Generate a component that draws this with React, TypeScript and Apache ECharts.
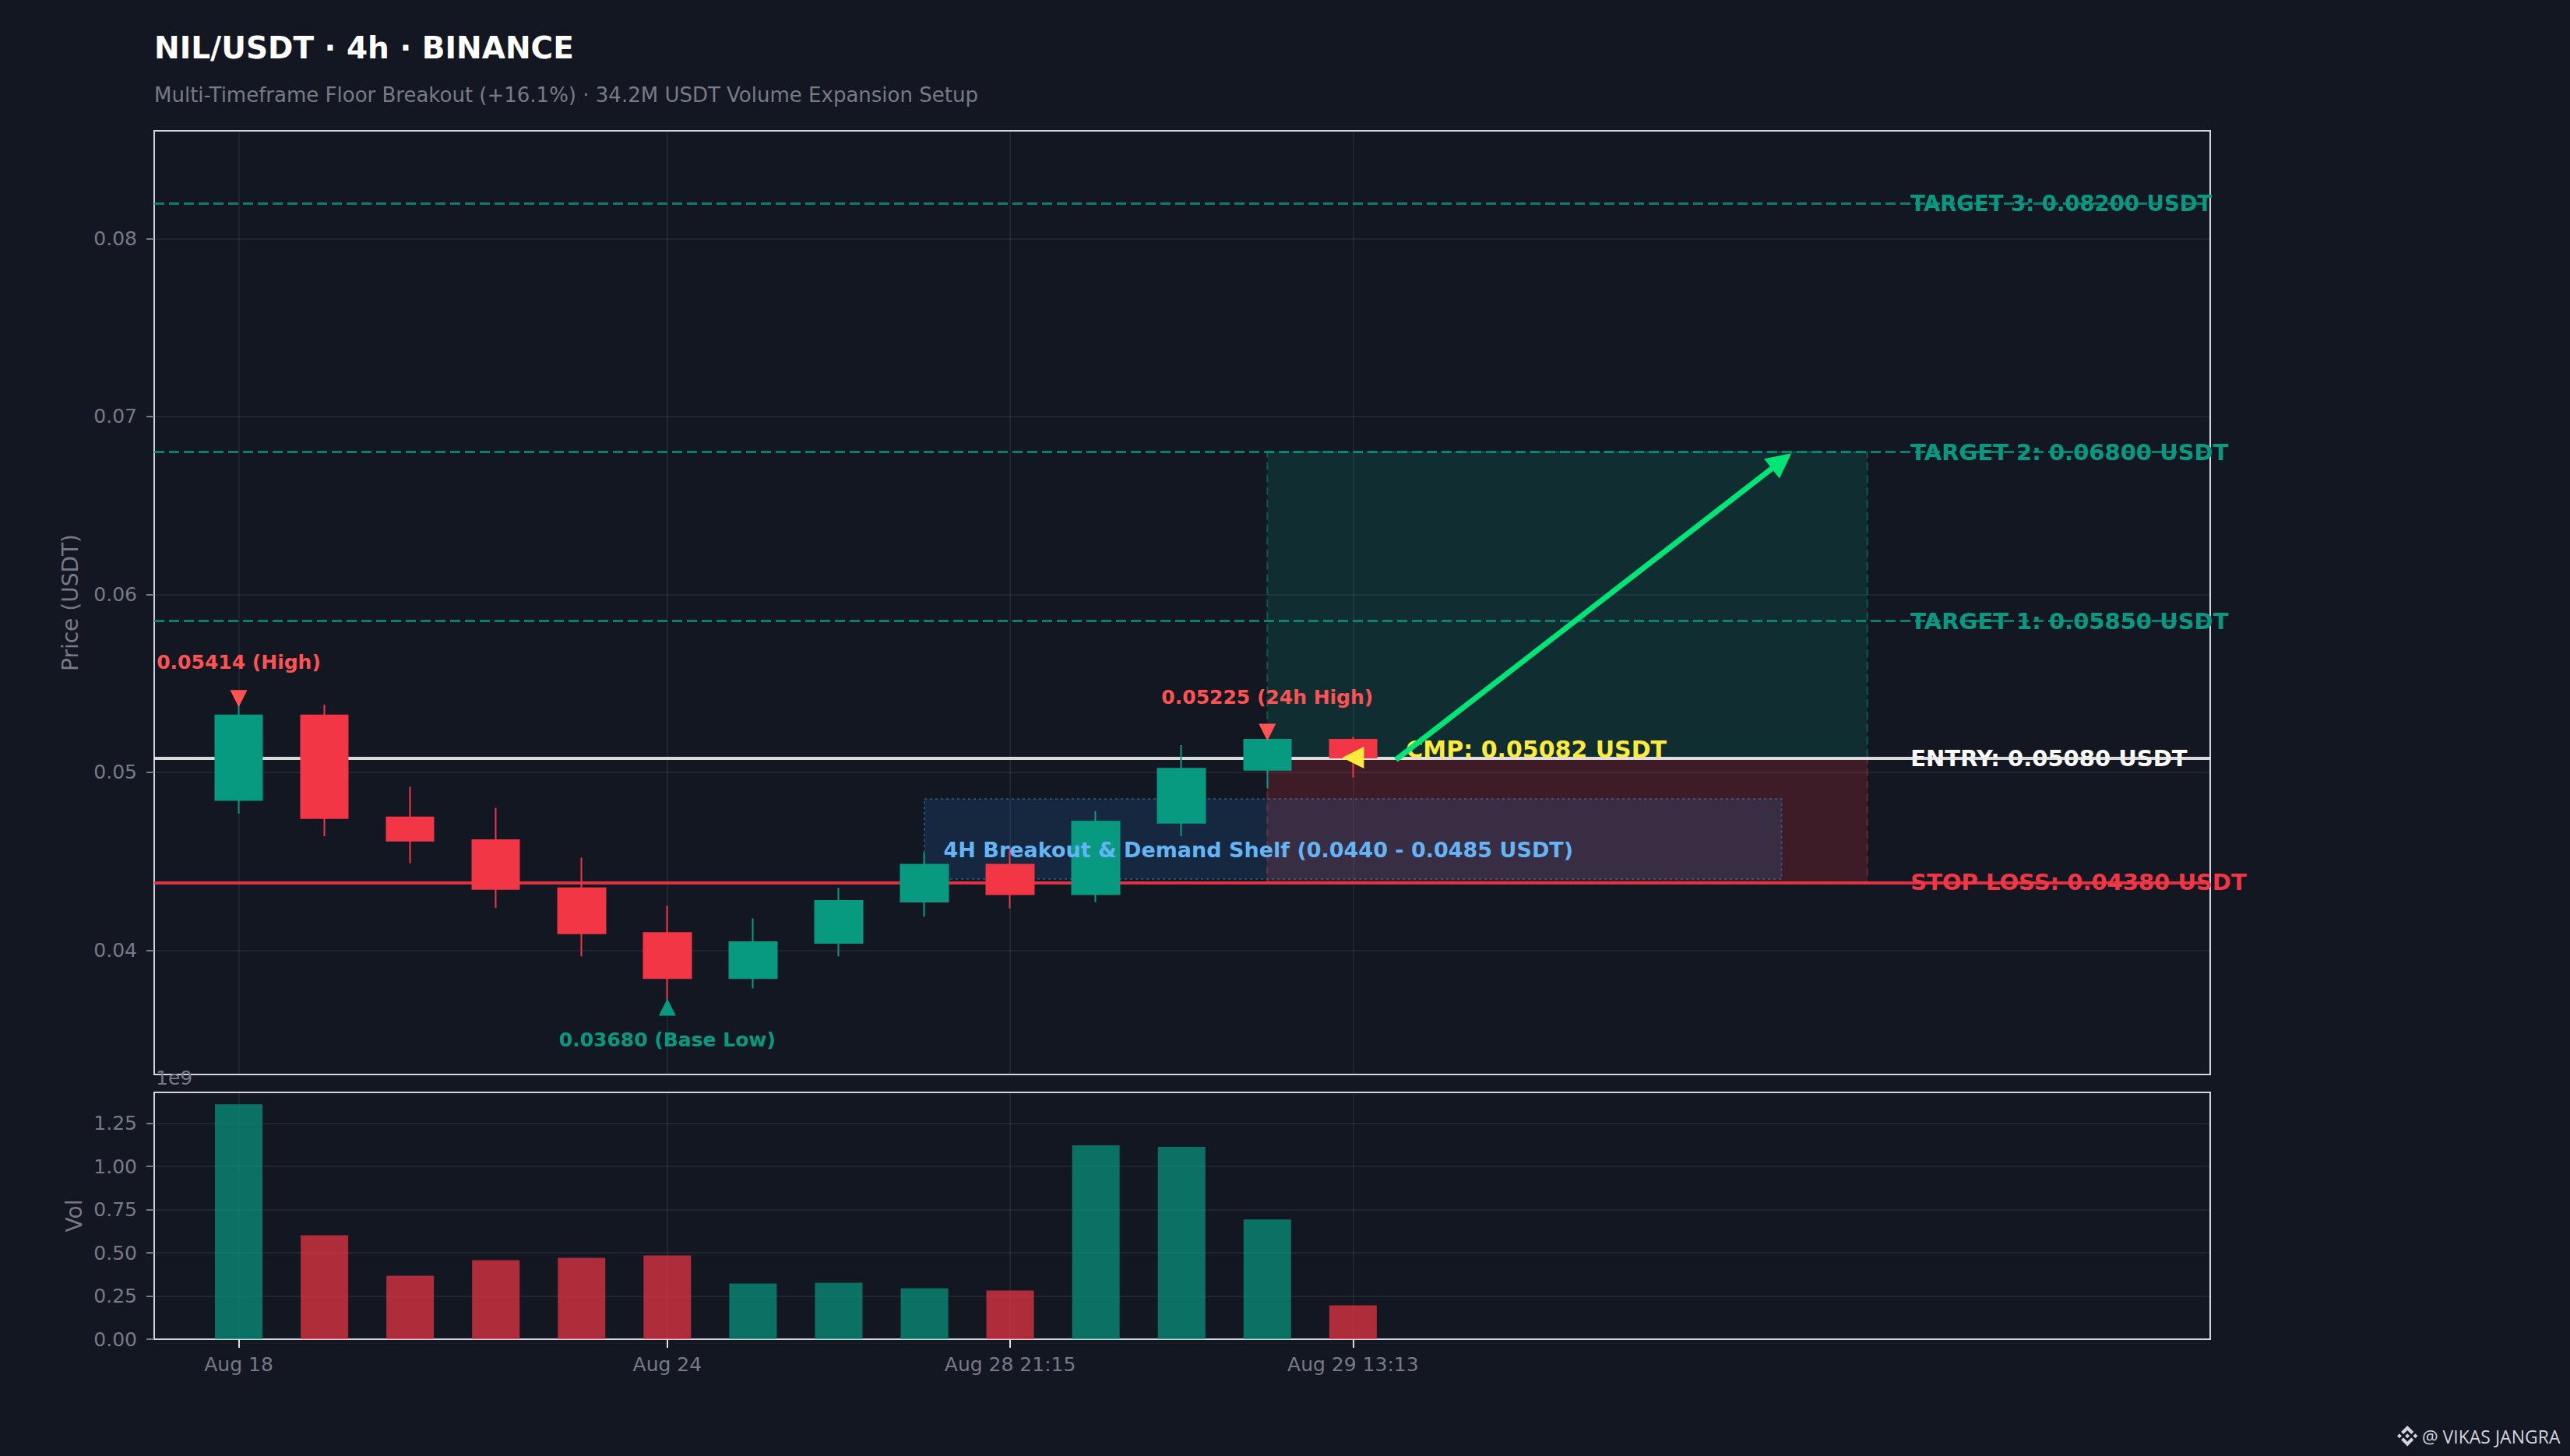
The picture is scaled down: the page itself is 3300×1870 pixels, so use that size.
import React, { useEffect, useRef } from 'react';
import * as echarts from 'echarts';

// ---------------- DATA ----------------
const CANDLE_INDEX = [0, 1, 2, 3, 4, 5, 6, 7, 8, 9, 10, 11, 12, 13];
const OPEN = [0.04844, 0.0532, 0.04746, 0.04619, 0.04348, 0.04097, 0.03843, 0.04041, 0.04273, 0.04481, 0.04314, 0.04716, 0.05014, 0.05183];
const CLOSE = [0.0532, 0.04742, 0.04615, 0.04344, 0.04094, 0.03843, 0.04045, 0.04277, 0.04481, 0.04314, 0.04722, 0.0502, 0.05183, 0.05082];
const LOW = [0.04767, 0.0464, 0.04488, 0.04237, 0.03965, 0.0368, 0.03785, 0.03965, 0.04188, 0.04234, 0.04269, 0.04642, 0.04909, 0.04971];
const HIGH = [0.05414, 0.0538, 0.04918, 0.048, 0.04519, 0.0425, 0.04179, 0.0435, 0.04551, 0.04587, 0.04781, 0.05153, 0.05225, 0.052];
const VOLUME = [1.36e9, 0.602e9, 0.367e9, 0.458e9, 0.471e9, 0.485e9, 0.322e9, 0.327e9, 0.295e9, 0.282e9, 1.122e9, 1.113e9, 0.693e9, 0.196e9];

const X_TICKS = [0, 5, 9, 13];
const X_TICK_LABELS = ['Aug 18', 'Aug 24', 'Aug 28 21:15', 'Aug 29 13:13'];
const PRICE_TICKS = [0.04, 0.05, 0.06, 0.07, 0.08];
const VOL_TICKS = [0, 0.25e9, 0.5e9, 0.75e9, 1.0e9, 1.25e9];

const LEVEL_NAMES = ['TARGET 3', 'TARGET 2', 'TARGET 1', 'ENTRY', 'STOP LOSS'];
const LEVEL_PRICES = [0.082, 0.068, 0.0585, 0.0508, 0.0438];
const LEVEL_KIND = ['target', 'target', 'target', 'entry', 'stop'];
const LEVEL_LABEL_X = 19.5;

const TARGET_ZONE = { x: [12, 19], y: [0.0508, 0.068] };
const RISK_ZONE = { x: [12, 19], y: [0.0438, 0.0508] };
const SHELF_ZONE = { x: [8, 18], y: [0.044, 0.0485] };
const SHELF_LABEL = '4H Breakout & Demand Shelf (0.0440 - 0.0485 USDT)';

const HIGH_MARK = { x: 0, price: 0.05414, text: '(High)' };
const LOW_MARK = { x: 5, price: 0.0368, text: '(Base Low)' };
const HIGH24_MARK = { x: 12, price: 0.05225, text: '(24h High)' };
const CMP_MARK = { x: 13, price: 0.05082 };
const ARROW_FROM = [13.5, 0.0507];
const ARROW_TO = [18, 0.0675];

const TITLE = 'NIL/USDT · 4h · BINANCE';
const SUBTITLE = 'Multi-Timeframe Floor Breakout (+16.1%) · 34.2M USDT Volume Expansion Setup';
const WATERMARK = '@ VIKAS JANGRA';

// ---------------- STYLE ----------------
const BG = '#131722';
const UP = '#089981';
const DOWN = '#f23645';
const ANN_RED = '#ff5252';
const GRAY = '#787b86';
const FONT = '"DejaVu Sans", sans-serif';
const GRID_LINE = 'rgba(255,255,255,0.06)';
const LEVEL_FONT_SIZES = [27.5, 29, 29, 29, 29];

const X_MIN = -0.986;
const X_MAX = 23.0;
const Y_MIN = 0.03301;
const Y_MAX = 0.08606;
const VOL_MAX = 1.429e9;

const LOGO_PATH =
  'M16.624 13.9202l2.7175 2.7154-7.353 7.353-7.353-7.352 2.7175-2.7164 4.6355 4.6595 4.6356-4.6595zm4.6366-4.6366L24 12l-2.7154 2.7164L18.5682 12l2.6924-2.7164zm-9.272.001l2.7163 2.6914-2.7164 2.7174v-.001L9.2721 12l2.7164-2.7154zm-9.2722-.001L5.4088 12l-2.6914 2.6924L0 12l2.7164-2.7164zM11.9885.0115l7.353 7.329-2.7174 2.7154-4.6356-4.6356-4.6355 4.6595-2.7174-2.7154 7.353-7.353z';

function levelColor(kind: string) {
  if (kind === 'entry') return '#ffffff';
  if (kind === 'stop') return DOWN;
  return UP;
}

function buildOption() {
  const candleData = CANDLE_INDEX.map((x, i) => [x, OPEN[i], CLOSE[i], LOW[i], HIGH[i]]);
  const volData = CANDLE_INDEX.map((x, i) => ({
    value: [x, VOLUME[i]],
    itemStyle: { color: CLOSE[i] >= OPEN[i] ? 'rgba(8,153,129,0.7)' : 'rgba(242,54,69,0.7)' },
  }));

  const levelLines = LEVEL_PRICES.map((p, i) => {
    const kind = LEVEL_KIND[i];
    return {
      yAxis: p,
      lineStyle:
        kind === 'target'
          ? { color: 'rgba(8,153,129,0.8)', width: 3, type: [13, 6] }
          : kind === 'entry'
          ? { color: 'rgba(235,235,235,0.92)', width: 4, type: 'solid' }
          : { color: 'rgba(242,54,69,0.9)', width: 4, type: 'solid' },
    };
  });

  const levelLabels = LEVEL_PRICES.map((p, i) => ({
    value: [LEVEL_LABEL_X, p],
    label: {
      show: true,
      position: 'right',
      distance: 0,
      opacity: 1,
      formatter: `${LEVEL_NAMES[i]}: ${p.toFixed(5)} USDT`,
      color: levelColor(LEVEL_KIND[i]),
      fontSize: LEVEL_FONT_SIZES[i],
      fontWeight: 'bold',
      fontFamily: FONT,
    },
  }));

  const annLabel = (text: string, color: string, position: string, distance: number, size = 25) => ({
    show: true,
    position,
    distance,
    opacity: 1,
    formatter: text,
    color,
    fontSize: size,
    fontWeight: 'bold',
    fontFamily: FONT,
  });

  const annotations = [
    {
      value: [HIGH_MARK.x, HIGH_MARK.price],
      symbol: 'triangle',
      symbolRotate: 180,
      symbolSize: 22,
      itemStyle: { color: ANN_RED, opacity: 1 },
      label: annLabel(`${HIGH_MARK.price.toFixed(5)} ${HIGH_MARK.text}`, ANN_RED, 'top', 23),
    },
    {
      value: [LOW_MARK.x, LOW_MARK.price],
      symbol: 'triangle',
      symbolRotate: 0,
      symbolSize: 22,
      itemStyle: { color: UP, opacity: 1 },
      label: annLabel(`${LOW_MARK.price.toFixed(5)} ${LOW_MARK.text}`, UP, 'bottom', 19),
    },
    {
      value: [HIGH24_MARK.x, HIGH24_MARK.price],
      symbol: 'triangle',
      symbolRotate: 180,
      symbolSize: 22,
      itemStyle: { color: ANN_RED, opacity: 1 },
      label: annLabel(`${HIGH24_MARK.price.toFixed(5)} ${HIGH24_MARK.text}`, ANN_RED, 'top', 21),
    },
    {
      value: [CMP_MARK.x, CMP_MARK.price],
      symbol: 'triangle',
      symbolRotate: 90,
      symbolSize: 28,
      itemStyle: { color: '#ffeb3b', opacity: 1 },
      label: { ...annLabel(`CMP: ${CMP_MARK.price.toFixed(5)} USDT`, '#ffeb3b', 'right', 54, 30), offset: [0, -11] },
    },
    {
      value: [SHELF_ZONE.x[0], (SHELF_ZONE.y[0] + SHELF_ZONE.y[1]) / 2],
      symbol: 'circle',
      symbolSize: 1,
      itemStyle: { color: 'rgba(0,0,0,0)', opacity: 1 },
      label: { ...annLabel(SHELF_LABEL, '#64b5f6', 'right', 24, 27), offset: [0, 14] },
    },
  ];

  const xAxisBase = {
    type: 'value',
    min: X_MIN,
    max: X_MAX,
    axisLine: { show: false, onZero: false },
    splitLine: { show: true, lineStyle: { color: GRID_LINE, width: 2 } },
  };

  return {
    animation: false,
    backgroundColor: BG,
    textStyle: { fontFamily: FONT },
    grid: [
      { left: 198, top: 168, width: 2640, height: 1212, show: true, borderColor: '#d1d4dc', borderWidth: 2, backgroundColor: 'transparent' },
      { left: 198, top: 1403, width: 2640, height: 317, show: true, borderColor: '#d1d4dc', borderWidth: 2, backgroundColor: 'transparent' },
    ],
    xAxis: [
      {
        ...xAxisBase,
        gridIndex: 0,
        axisTick: { show: false, customValues: X_TICKS },
        axisLabel: { show: false, customValues: X_TICKS },
      },
      {
        ...xAxisBase,
        gridIndex: 1,
        axisTick: { show: true, length: 11, customValues: X_TICKS, lineStyle: { color: '#e0e0e0', width: 2 } },
        axisLabel: {
          show: true,
          customValues: X_TICKS,
          margin: 20,
          color: GRAY,
          fontSize: 25,
          fontFamily: FONT,
          formatter: (v: number) => {
            const k = X_TICKS.indexOf(Math.round(v));
            return k >= 0 ? X_TICK_LABELS[k] : '';
          },
        },
      },
    ],
    yAxis: [
      {
        type: 'value',
        gridIndex: 0,
        min: Y_MIN,
        max: Y_MAX,
        name: 'Price (USDT)',
        nameLocation: 'middle',
        nameGap: 94,
        nameTextStyle: { color: GRAY, fontSize: 28, fontFamily: FONT },
        axisLine: { show: false, onZero: false },
        axisTick: { show: true, length: 10, customValues: PRICE_TICKS, lineStyle: { color: GRAY, width: 2 } },
        axisLabel: {
          customValues: PRICE_TICKS,
          margin: 22,
          color: GRAY,
          fontSize: 25,
          fontFamily: FONT,
          formatter: (v: number) => v.toFixed(2),
        },
        splitLine: { show: true, lineStyle: { color: GRID_LINE, width: 2 } },
      },
      {
        type: 'value',
        gridIndex: 1,
        min: 0,
        max: VOL_MAX,
        name: 'Vol',
        nameLocation: 'middle',
        nameGap: 89,
        nameTextStyle: { color: GRAY, fontSize: 28, fontFamily: FONT },
        axisLine: { show: false, onZero: false },
        axisTick: { show: true, length: 10, customValues: VOL_TICKS, lineStyle: { color: GRAY, width: 2 } },
        axisLabel: {
          customValues: VOL_TICKS,
          margin: 22,
          color: GRAY,
          fontSize: 25,
          fontFamily: FONT,
          formatter: (v: number) => (v / 1e9).toFixed(2),
        },
        splitLine: { show: true, lineStyle: { color: GRID_LINE, width: 2 } },
      },
    ],
    series: [
      {
        name: 'Level labels',
        type: 'scatter',
        xAxisIndex: 0,
        yAxisIndex: 0,
        z: 2,
        silent: true,
        symbolSize: 1,
        itemStyle: { color: 'rgba(0,0,0,0)', opacity: 1 },
        data: levelLabels,
      },
      {
        name: 'NIL/USDT',
        type: 'candlestick',
        xAxisIndex: 0,
        yAxisIndex: 0,
        z: 4,
        silent: true,
        barWidth: 61,
        encode: { x: 0, y: [1, 2, 3, 4] },
        itemStyle: { color: UP, color0: DOWN, borderColor: UP, borderColor0: DOWN, borderWidth: 2 },
        data: candleData,
        markArea: {
          silent: true,
          z: 1,
          data: [
            [
              {
                coord: [TARGET_ZONE.x[0], TARGET_ZONE.y[1]],
                itemStyle: { color: 'rgba(8,153,129,0.18)', borderColor: 'rgba(8,153,129,0.45)', borderWidth: 2, borderType: [10, 6] },
              },
              { coord: [TARGET_ZONE.x[1], TARGET_ZONE.y[0]] },
            ],
            [
              {
                coord: [RISK_ZONE.x[0], RISK_ZONE.y[1]],
                itemStyle: { color: 'rgba(242,54,69,0.19)', borderColor: 'rgba(242,54,69,0.35)', borderWidth: 2, borderType: [10, 6] },
              },
              { coord: [RISK_ZONE.x[1], RISK_ZONE.y[0]] },
            ],
            [
              {
                coord: [SHELF_ZONE.x[0], SHELF_ZONE.y[1]],
                itemStyle: { color: 'rgba(33,150,243,0.14)', borderColor: 'rgba(66,165,245,0.35)', borderWidth: 2, borderType: [3, 4] },
              },
              { coord: [SHELF_ZONE.x[1], SHELF_ZONE.y[0]] },
            ],
          ],
        },
        markLine: {
          silent: true,
          z: 3,
          precision: 6,
          symbol: ['none', 'none'],
          label: { show: false },
          data: levelLines,
        },
      },
      {
        name: 'Annotations',
        type: 'scatter',
        xAxisIndex: 0,
        yAxisIndex: 0,
        z: 5,
        silent: true,
        itemStyle: { opacity: 1 },
        data: annotations,
        markLine: {
          silent: true,
          z: 6,
          precision: 6,
          symbol: ['none', 'triangle'],
          symbolSize: 32,
          label: { show: false },
          lineStyle: { color: '#00e676', width: 7, type: 'solid', opacity: 1 },
          itemStyle: { color: '#00e676' },
          data: [[{ coord: ARROW_FROM }, { coord: ARROW_TO }]],
        },
      },
      {
        name: 'Volume',
        type: 'bar',
        xAxisIndex: 1,
        yAxisIndex: 1,
        barWidth: 61,
        silent: true,
        data: volData,
      },
    ],
    graphic: [
      {
        type: 'text',
        x: 198,
        y: 61,
        style: { text: TITLE, fill: '#ffffff', fontSize: 39, fontWeight: 'bold', fontFamily: FONT, align: 'left', verticalAlign: 'middle' },
      },
      {
        type: 'text',
        x: 198,
        y: 122,
        style: { text: SUBTITLE, fill: GRAY, fontSize: 26, fontFamily: FONT, align: 'left', verticalAlign: 'middle' },
      },
      {
        type: 'text',
        x: 200,
        y: 1384,
        style: { text: '1e9', fill: GRAY, fontSize: 25, fontFamily: FONT, align: 'left', verticalAlign: 'middle' },
      },
      {
        type: 'binanceLogo',
        x: 3078,
        y: 1831,
        scaleX: 1.1,
        scaleY: 1.1,
        style: { fill: '#d1d4dc' },
      },
      {
        type: 'text',
        x: 3110,
        y: 1845,
        style: { text: WATERMARK, fill: '#d1d4dc', fontSize: 23, fontFamily: '"Open Sans", sans-serif', align: 'left', verticalAlign: 'middle' },
      },
    ],
  };
}

let logoRegistered = false;

export default function App() {
  const ref = useRef<HTMLDivElement>(null);
  useEffect(() => {
    if (!ref.current) return;
    if (!logoRegistered) {
      echarts.graphic.registerShape('binanceLogo', echarts.graphic.extendPath(LOGO_PATH, {}) as any);
      logoRegistered = true;
    }
    const chart = echarts.init(ref.current, null, { renderer: 'svg' });
    chart.setOption(buildOption() as any);
    return () => chart.dispose();
  }, []);
  return (
    <div
      ref={ref}
      style={{ position: 'fixed', left: 0, top: 0, width: 3300, height: 1870, background: BG }}
    />
  );
}
